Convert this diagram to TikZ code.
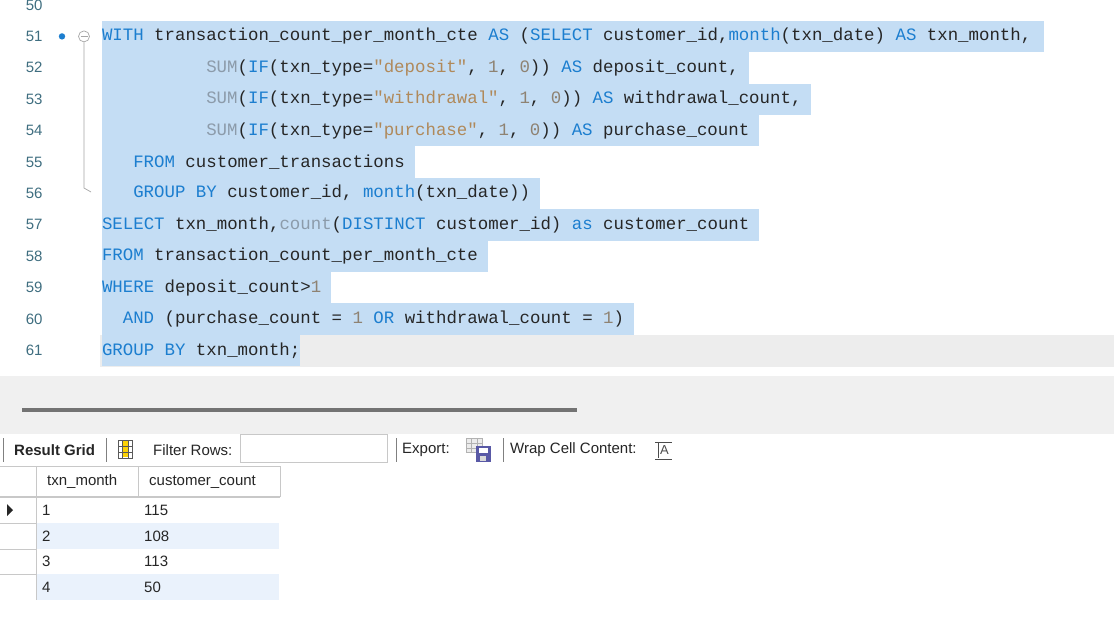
\documentclass[tikz,border=0pt]{standalone}
\usepackage{fontspec}
\setmainfont{Liberation Sans}
\newfontfamily\codef{Liberation Mono}
\definecolor{hl}{HTML}{C4DDF4}
\definecolor{kwc}{HTML}{1C7ECF}
\definecolor{fnc}{HTML}{8C9BAA}
\definecolor{stc}{HTML}{B0895A}
\definecolor{nmc}{HTML}{8E8272}
\definecolor{txc}{HTML}{262626}
\definecolor{lnc}{HTML}{3F6E80}
\definecolor{curl}{HTML}{EDEDED}
\definecolor{panel}{HTML}{F0F0F0}
\definecolor{alt}{HTML}{EAF2FC}
\definecolor{grid}{HTML}{C8C8C8}
\newcommand{\kw}[1]{\textcolor{kwc}{#1}}
\newcommand{\fnm}[1]{\textcolor{fnc}{#1}}
\newcommand{\str}[1]{\textcolor{stc}{#1}}
\newcommand{\num}[1]{\textcolor{nmc}{#1}}
\newcommand{\ind}[1]{\hspace*{#1\dimexpr10.43pt\relax}}
\begin{document}
\begin{tikzpicture}[x=1pt,y=-1pt,
  code/.style={anchor=west,inner sep=0pt,outer sep=0pt,minimum height=31.4pt,fill=hl,text=txc,font=\codef\fontsize{17.4}{20}\selectfont},
  ln/.style={anchor=east,text=lnc,font=\fontsize{15}{18}\selectfont},
  ui/.style={anchor=west,inner sep=0pt,text=txc,font=\fontsize{15}{18}\selectfont},
  cell/.style={anchor=west,inner sep=0pt,text=txc,font=\fontsize{15}{18}\selectfont}]
\useasboundingbox (0,0) rectangle (1114,627);
\fill[white] (0,0) rectangle (1114,627);
% current line
\fill[curl] (100,335.3) rectangle (1114,366.7);
% line numbers
\foreach \n [count=\i from 0] in {50,...,61}
  \node[ln] (l\n) at (46,{5+\i*31.4}) {\n};
\fill[kwc] (62,36.4) circle (3.2);
\node[circle,draw=gray!70,inner sep=0pt,minimum size=11pt,line width=0.7pt] (fold) at (84,36.4) {};
\draw[gray!70,line width=0.7pt] (84,36.4) ++(-3.5,0) -- ++(7,0);
\draw[gray!70,line width=0.7pt] (fold.south) -- (84,188) -- (91,192);
% code
\node[code] (c51) at (102,36.4) {\kw{WITH} transaction\_count\_per\_month\_cte \kw{AS} (\kw{SELECT} customer\_id,\kw{month}(txn\_date) \kw{AS} txn\_month,\hspace*{13pt}};
\node[code] (c52) at (102,67.8) {\ind{10}\fnm{SUM}(\kw{IF}(txn\_type=\str{"deposit"}, \num{1}, \num{0})) \kw{AS} deposit\_count,\hspace*{10pt}};
\node[code] (c53) at (102,99.2) {\ind{10}\fnm{SUM}(\kw{IF}(txn\_type=\str{"withdrawal"}, \num{1}, \num{0})) \kw{AS} withdrawal\_count,\hspace*{10pt}};
\node[code] (c54) at (102,130.6) {\ind{10}\fnm{SUM}(\kw{IF}(txn\_type=\str{"purchase"}, \num{1}, \num{0})) \kw{AS} purchase\_count\hspace*{10pt}};
\node[code] (c55) at (102,162) {\ind{3}\kw{FROM} customer\_transactions\hspace*{10pt}};
\node[code] (c56) at (102,193.4) {\ind{3}\kw{GROUP BY} customer\_id, \kw{month}(txn\_date))\hspace*{10pt}};
\node[code] (c57) at (102,224.8) {\kw{SELECT} txn\_month,\fnm{count}(\kw{DISTINCT} customer\_id) \kw{as} customer\_count\hspace*{10pt}};
\node[code] (c58) at (102,256.2) {\kw{FROM} transaction\_count\_per\_month\_cte\hspace*{10pt}};
\node[code] (c59) at (102,287.6) {\kw{WHERE} deposit\_count>\num{1}\hspace*{10pt}};
\node[code] (c60) at (102,319) {\ind{2}\kw{AND} (purchase\_count = \num{1} \kw{OR} withdrawal\_count = \num{1})\hspace*{10pt}};
\node[code] (c61) at (102,350.4) {\kw{GROUP BY} txn\_month;};
% panel
\fill[panel] (0,376) rectangle (1114,434);
\draw[black!55,line width=3.5pt] (22,410) -- (577,410);
\fill[white] (0,434) rectangle (1114,627);
% toolbar
\draw[gray] (3,438) -- (3,462);
\node[ui,font=\bfseries\fontsize{15}{18}\selectfont] (rg) at (14,450) {Result Grid};
\draw[gray] (106,438) -- (106,462);
\node[draw=gray!70!black,fill=white,minimum width=14pt,minimum height=18pt,inner sep=0pt] (gi) at (125,449) {};
\fill[yellow!70!orange] (122,441) rectangle (128,457);
\draw[gray!70!black] (118,446)--(132,446) (118,452)--(132,452) (122,440)--(122,458) (128,440)--(128,458);
\node[ui] (fr) at (153,450) {Filter Rows:};
\node[draw=grid,fill=white,anchor=west,minimum width=147pt,minimum height=28pt,inner sep=0pt] (box) at (240,448) {};
\draw[gray] (396,438) -- (396,462);
\node[ui] (ex) at (402,450) {Export:};
\node[draw=gray!60,fill=gray!15,minimum width=16pt,minimum height=14pt,inner sep=0pt] (ei) at (474,445) {};
\draw[gray!60] (466,443)--(482,443) (466,448)--(482,448) (471,438)--(471,452) (477,438)--(477,452);
\fill[gray!70!blue] (476,446) rectangle (491,462);
\fill[white] (479,448) rectangle (488,453);
\fill[gray!30] (480,456) rectangle (486,461);
\draw[gray] (503,438) -- (503,462);
\node[ui] (wc) at (510,450) {Wrap Cell Content:};
\node[ui,font=\fontsize{13}{16}\selectfont,text=gray!60!black] (wi) at (660,450) {A};
\draw[gray!60!black] (655,442)--(672,442) (655,459)--(672,459) (658,443)--(658,458);
% table
\fill[alt] (37,523) rectangle (279,549);
\fill[alt] (37,574) rectangle (279,600);
\draw[grid] (0,466) -- (280,466);
\draw[grid,line width=1.2pt] (0,497) -- (280,497);
\draw[grid] (36,466) -- (36,600);
\draw[grid] (138,466) -- (138,497);
\draw[grid] (280,466) -- (280,497);
\draw[grid] (0,523) -- (36,523) (0,549) -- (36,549) (0,574) -- (36,574);
\node[cell] (h1) at (47,482) {txn\_month};
\node[cell] (h2) at (149,482) {customer\_count};
\fill[txc] (7,504) -- (13,510) -- (7,516) -- cycle;
\foreach \y/\a/\b [count=\k] in {510/1/115,536/2/108,561/3/113,587/4/50}{
  \node[cell] (a\k) at (42,\y) {\a};
  \node[cell] (b\k) at (144,\y) {\b};
}
\end{tikzpicture}
\end{document}
